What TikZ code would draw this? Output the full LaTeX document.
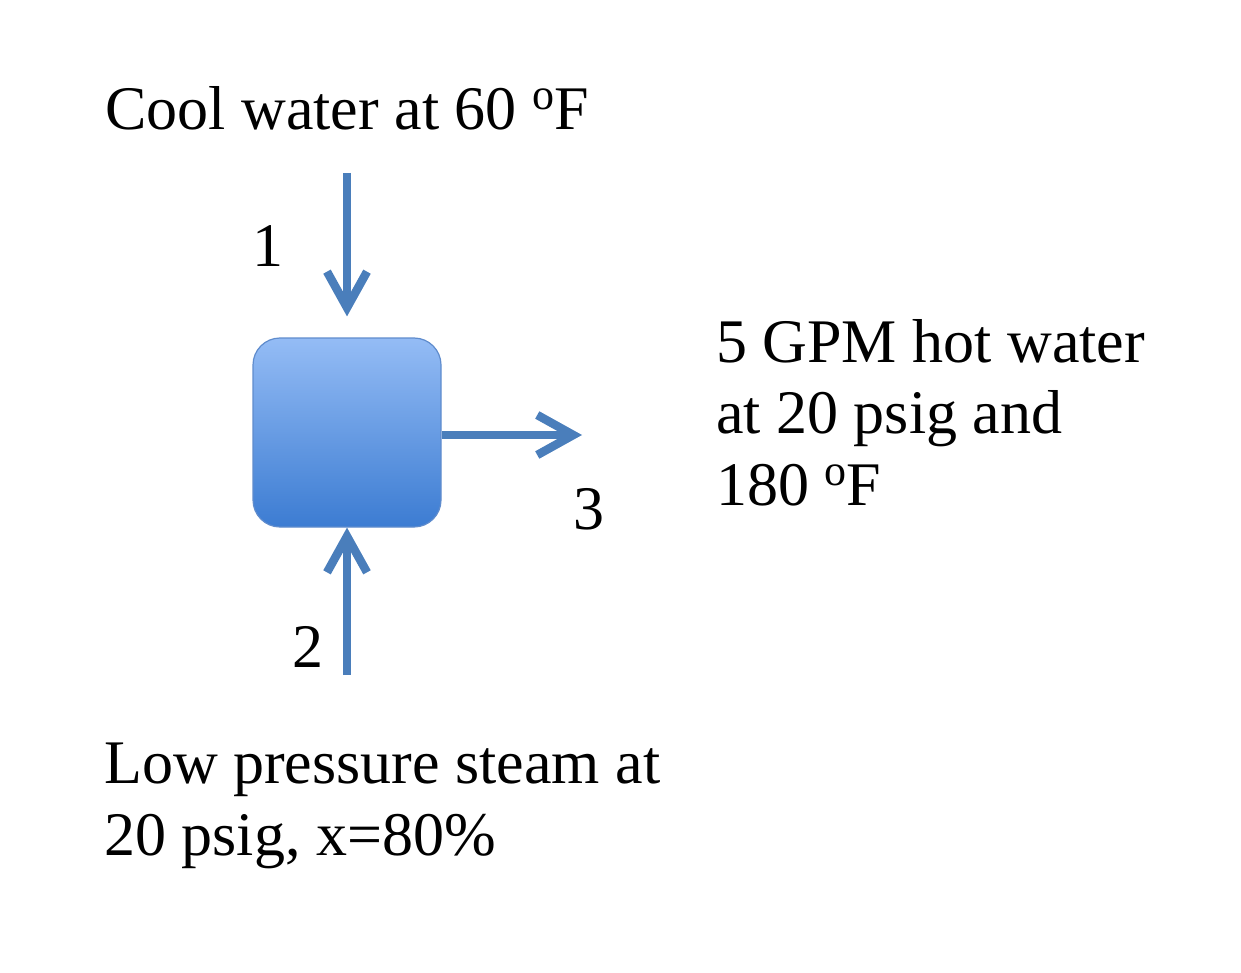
\documentclass[tikz,border=0pt]{standalone}
\usepackage{fontspec}
\setmainfont{Liberation Serif}
\usetikzlibrary{arrows.meta}
\definecolor{arrowblue}{RGB}{74,126,187}
\definecolor{boxtop}{RGB}{148,188,245}
\definecolor{boxbot}{RGB}{60,124,210}
\definecolor{boxline}{RGB}{95,140,205}
\newcommand{\degsym}{\raisebox{20pt}{\fontsize{44}{44}\selectfont o}}
\begin{document}
\begin{tikzpicture}[x=1pt,y=-1pt,
  lbl/.style={font=\fontsize{62}{71.5}\selectfont, inner sep=0pt, anchor=base west, align=left},
  flow/.style={draw=arrowblue, line width=8.5pt, -{Straight Barb[length=36pt,width=40pt]}},
  unit/.style={draw=boxline, line width=1.2pt, rounded corners=27pt, top color=boxtop, bottom color=boxbot, minimum width=188pt, minimum height=189pt, inner sep=0pt}
]
\useasboundingbox (0,0) rectangle (1241,973);
\node[unit] (mix) at (347,432.5) {};
\coordinate (in1) at (347,173);
\coordinate (in2) at (347,675);
\coordinate (out3) at (582,435);
\draw[flow, shorten >=21pt] (in1) -- (mix.north);
\draw[flow] (in2) -- (mix.south);
\draw[flow] (mix.east |- out3) -- (out3);
\node[lbl] (t1) at (252,267) {1};
\node[lbl] (t2) at (292,667) {2};
\node[lbl] (t3) at (573,529) {3};
\node[lbl] (cool) at (105,130) {Cool water at 60 \degsym F};
\node[lbl] (hot) at (716,505) {5 GPM hot water\\at 20 psig and\\180 \degsym F};
\node[lbl] (steam) at (104,855) {Low pressure steam at\\20 psig, x=80\%};
\end{tikzpicture}
\end{document}
